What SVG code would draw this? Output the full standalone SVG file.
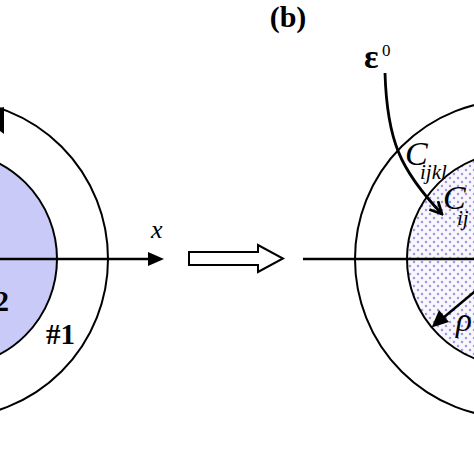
<svg xmlns="http://www.w3.org/2000/svg" width="474" height="474" viewBox="0 0 474 474">
<style>
.ln{fill:none;stroke:#000;stroke-width:2}
.ax{fill:none;stroke:#000;stroke-width:2.5}
.t{font-family:"Liberation Serif","Times New Roman",serif;fill:#000}
.b{font-weight:bold}
.i{font-style:italic}
</style>
<defs>
<pattern id="dots" width="8" height="8" patternUnits="userSpaceOnUse">
<rect width="8" height="8" fill="#f8f7fd"/>
<circle cx="2" cy="2" r="1.25" fill="#a198de"/>
<circle cx="6" cy="6" r="1.25" fill="#a198de"/>
</pattern>
<marker id="va" viewBox="0 0 10 10" refX="9" refY="5" markerWidth="15" markerHeight="15" markerUnits="userSpaceOnUse" orient="auto">
<path d="M1,1 L9,5 L1,9" fill="none" stroke="#000" stroke-width="1.8"/>
</marker>
</defs>
<rect width="474" height="474" fill="#fff"/>
<g id="panel-a">
<circle id="a-inner" cx="-51" cy="259" r="108" fill="#cacaf9" stroke="#000" stroke-width="2"/>
<circle id="a-outer" class="ln" cx="-51" cy="259" r="159"/>
<polygon id="a-arc-head" points="-22,114 4,107 4,134" fill="#000"/>
<text class="t b" x="9" y="311" font-size="29" text-anchor="end">#2</text>
<text class="t b" x="46" y="344" font-size="29">#1</text>
<text class="t i" x="151" y="238" font-size="26">x</text>
</g>
<g id="panel-b">
<circle id="b-inner" cx="514" cy="259" r="107" fill="url(#dots)" stroke="#000" stroke-width="2"/>
<circle id="b-outer" class="ln" cx="514" cy="259" r="159"/>
<text class="t b" x="288" y="27" font-size="30" text-anchor="middle">(b)</text>
<text class="t b" x="364" y="68" font-size="34">ε</text>
<text class="t" x="382" y="56" font-size="17">0</text>
<text class="t i" x="405" y="165" font-size="34">C</text>
<text class="t i" x="420" y="179" font-size="21">ijkl</text>
<text class="t i" x="443" y="209" font-size="34">C</text>
<text class="t i" x="457" y="225" font-size="21">ij</text>
<text class="t i" x="456" y="331" font-size="33">ρ</text>
</g>
<g id="connectors">
<line class="ax" x1="0" y1="259" x2="150" y2="259"/>
<polygon points="148,252 164,259 148,266" fill="#000"/>
<polygon id="transform-arrow" points="189,252 258,252 258,245 283,258.5 258,272 258,265 189,265" fill="#fff" stroke="#000" stroke-width="2"/>
<line class="ax" x1="303" y1="259" x2="474" y2="259"/>
<path d="M385,73 C387,140 400,170 442,214" fill="none" stroke="#000" stroke-width="2.8" marker-end="url(#va)"/>
<line class="ax" x1="514" y1="259" x2="440" y2="320.5"/>
<polygon points="431.6,327.5 439,310 449,322" fill="#000"/>
</g>
</svg>
